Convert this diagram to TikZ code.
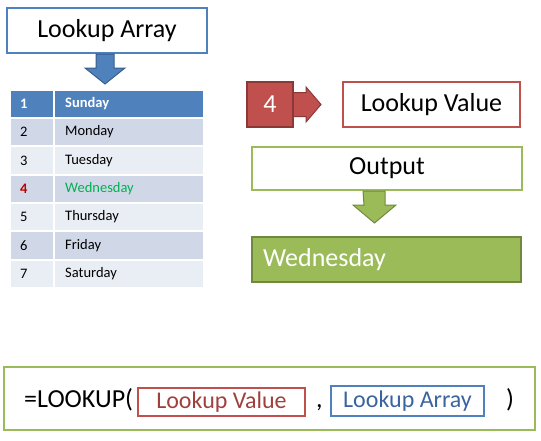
\documentclass[tikz,border=0pt]{standalone}
\usepackage{fontspec}
\setmainfont{Carlito}
\usepackage{tikz}
\usetikzlibrary{calc}
\definecolor{lkblue}{HTML}{4F81BD}
\definecolor{lkbluedark}{HTML}{385D8A}
\definecolor{lkbluetext}{HTML}{3A64A0}
\definecolor{rowdark}{HTML}{D0D8E8}
\definecolor{rowlight}{HTML}{E9EDF4}
\definecolor{lkred}{HTML}{C0504D}
\definecolor{lkreddark}{HTML}{8C3836}
\definecolor{lkredtext}{HTML}{A0403D}
\definecolor{numred}{HTML}{C00000}
\definecolor{lkgreen}{HTML}{9BBB59}
\definecolor{lkgreendark}{HTML}{71893F}
\definecolor{daygreen}{HTML}{00B050}
\newcommand\fsbig{\fontsize{26}{30}\selectfont}
\newcommand\fsmid{\fontsize{24}{28}\selectfont}
\newcommand\fssmall{\fontsize{14.5}{17}\selectfont}

\begin{document}
\begin{tikzpicture}[x=1pt,y=-1pt,
  box/.style={draw,line width=2pt,fill=white,inner sep=0pt,font=\fsbig},
  cell/.style={anchor=west,inner sep=0pt}]
\useasboundingbox (0,0) rectangle (541,440);
% lookup array
\node[box,draw=lkblue,minimum width=200pt,minimum height=45pt] (arr) at (107,30.5) {Lookup Array};
\filldraw[fill=lkblue,draw=lkbluedark,line width=1pt] ($(arr.south west)+(90,0)$) -- ++(18,0) -- ++(0,14) -- ++(11,0) -- ++(-20,16) -- ++(-20,-16) -- ++(11,0) -- cycle;
% table
\foreach \i/\day/\cfill/\ncol/\dcol/\nf/\df in {1/Sunday/lkblue/white/white/b/b,
  2/Monday/rowdark/black/black/m/m, 3/Tuesday/rowlight/black/black/m/m,
  4/Wednesday/rowdark/numred/daygreen/b/m, 5/Thursday/rowlight/black/black/m/m,
  6/Friday/rowdark/black/black/m/m, 7/Saturday/rowlight/black/black/m/m}
{
  \fill[\cfill] (11,{90.5+28.35*(\i-1)}) rectangle ++(42,26.3);
  \fill[\cfill] (54.5,{90.5+28.35*(\i-1)}) rectangle ++(148.5,26.3);
  \node[cell,text=\ncol,font=\fssmall\fontseries{\nf}\selectfont] (num\i) at (20,{103.7+28.35*(\i-1)}) {\i};
  \node[cell,text=\dcol,font=\fssmall\fontseries{\df}\selectfont] (day\i) at (65,{103.7+28.35*(\i-1)}) {\day};
}
% lookup value
\filldraw[fill=lkred,draw=lkreddark,line width=1pt] (293,92.5) -- ++(13,0) -- ++(0,-5.5) -- ++(15,17.5) -- ++(-15,17.5) -- ++(0,-5.5) -- ++(-13,0) -- cycle;
\node[box,fill=lkred,draw=lkreddark,text=white,minimum width=46pt,minimum height=45pt] (four) at (270,104.5) {4};
\node[box,draw=lkred,minimum width=177pt,minimum height=45pt] (lval) at (431.5,104.5) {Lookup Value};
% output
\node[box,draw=lkgreen,minimum width=270pt,minimum height=43pt] (out) at (387,168.5) {Output};
\filldraw[fill=lkgreen,draw=lkgreendark,line width=1pt] ($(out.south west)+(112,0)$) -- ++(22,0) -- ++(0,14) -- ++(11,0) -- ++(-21.5,18) -- ++(-21.5,-18) -- ++(11,0) -- cycle;
\node[box,fill=lkgreen,draw=lkgreendark,text=white,text width=247pt,inner xsep=11pt,align=left,minimum height=45pt] (wed) at (386.5,259.5) {Wednesday};
% formula
\node[draw=lkgreen,line width=2.5pt,minimum width=531pt,minimum height=63pt] (formula) at (269.5,398.5) {};
\node[anchor=base west,inner sep=0pt,font=\fsbig] (fn) at (24,407) {=LOOKUP(};
\node[draw=lkred,line width=2pt,text=lkredtext,font=\fsmid,minimum width=167pt,minimum height=28pt,inner sep=0pt] (argval) at (221.5,402) {Lookup Value};
\node[anchor=base west,inner sep=0pt,font=\fsbig] (comma) at (316,407) {,};
\node[draw=lkblue,line width=2pt,text=lkbluetext,font=\fsmid,minimum width=153pt,minimum height=30pt,inner sep=0pt] (argarr) at (407.5,401) {Lookup Array};
\node[anchor=base west,inner sep=0pt,font=\fsbig] (close) at (506,407) {)};
\end{tikzpicture}
\end{document}
